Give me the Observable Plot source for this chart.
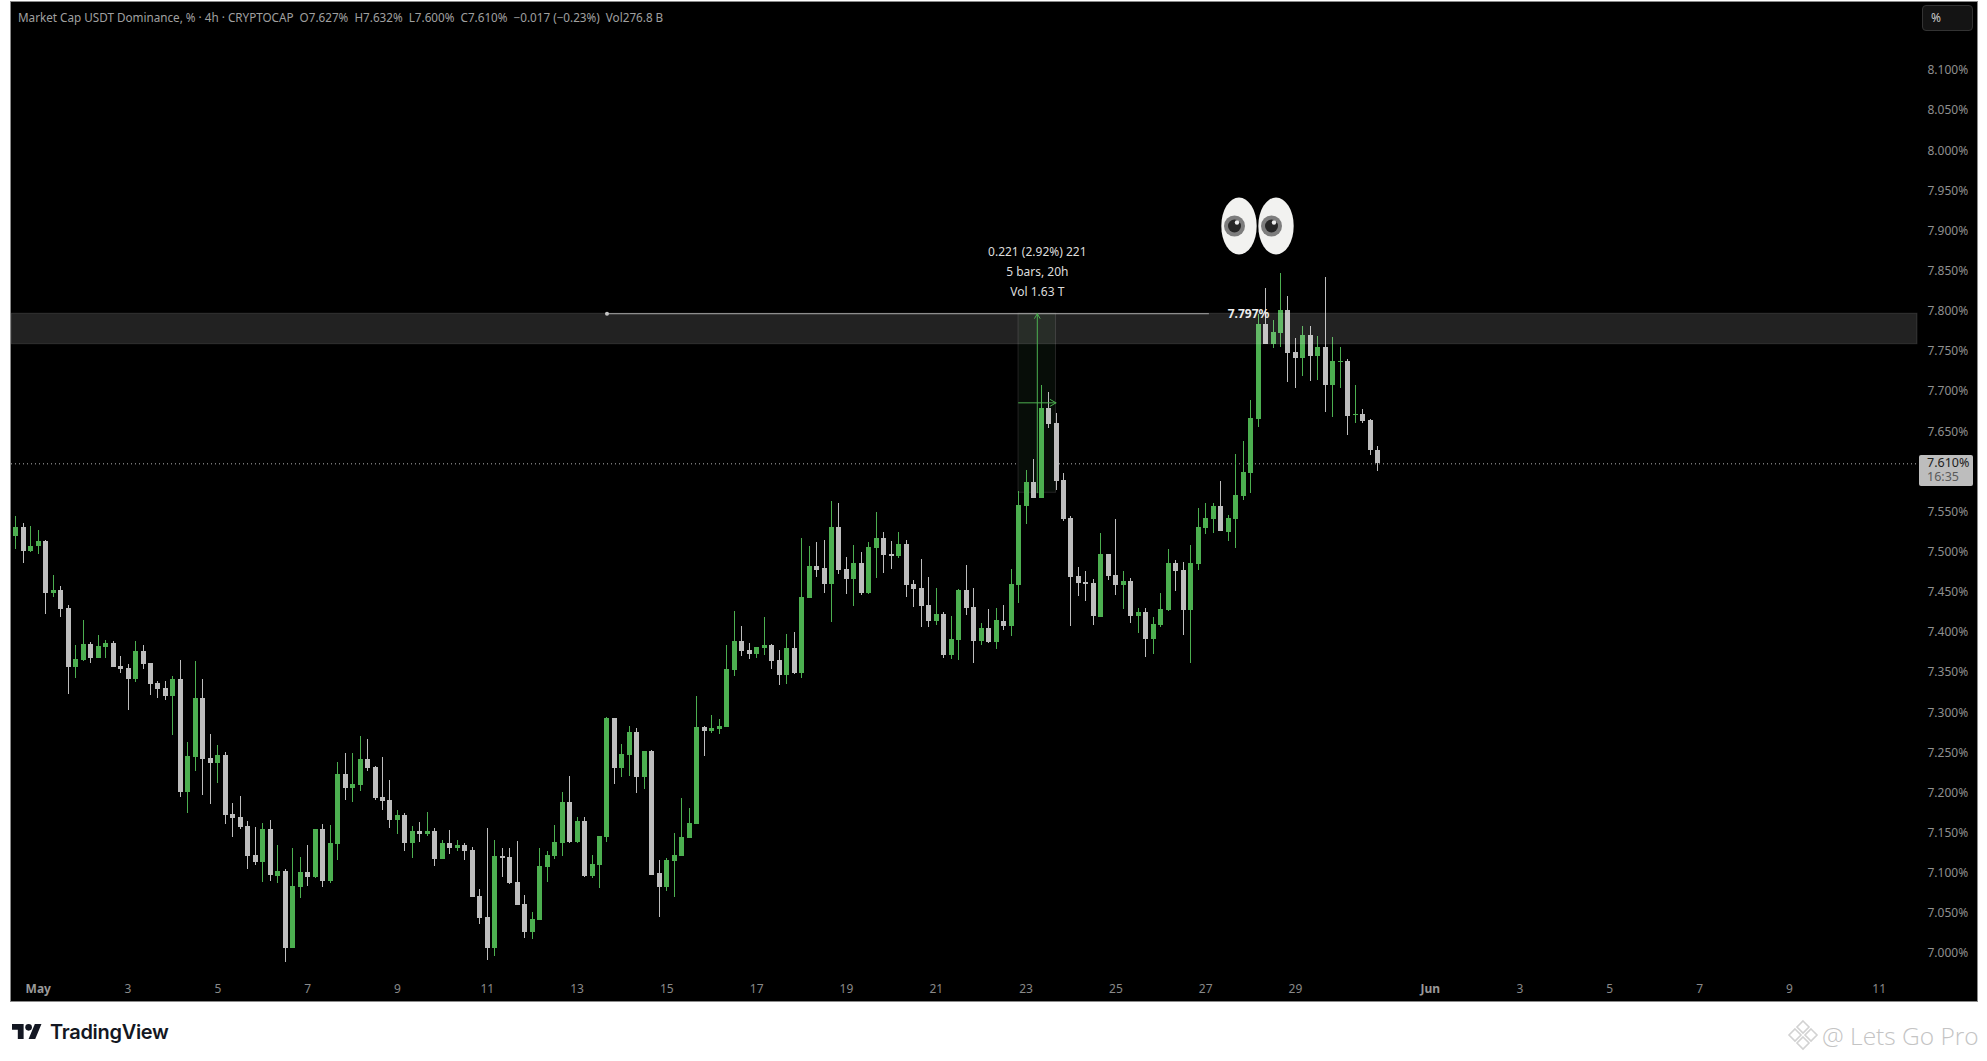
<!DOCTYPE html>
<html>
<head>
<meta charset="utf-8">
<script src="https://cdn.jsdelivr.net/npm/d3@7"></script>
<script src="https://cdn.jsdelivr.net/npm/@observablehq/plot@0.6"></script>
<style>
html,body{margin:0;padding:0;background:#fff;}
#wrap{position:relative;width:1987px;height:1061px;overflow:hidden;background:#fff;font-family:"Noto Sans",sans-serif;}
#chart{position:absolute;left:11px;top:2px;width:1966px;height:999px;outline:1px solid #8a8a8a;}
#chart svg{display:block;}
.abs{position:absolute;white-space:pre;}
#head{left:18px;top:9px;font-size:11.7px;line-height:16px;color:#a0a0a0;}
#pct{left:1922px;top:5px;width:51px;height:26px;box-sizing:border-box;background:#141414;border:1px solid #333;border-radius:4px;color:#c8c8c8;font-size:12px;line-height:24px;padding-left:8px;}
#price{left:1919px;top:455px;width:54px;height:31px;background:#bdbdbd;border-radius:2px;color:#1c1c1c;font-size:12.5px;line-height:14px;padding:1px 0 0 8px;box-sizing:border-box;}
#price span{color:#5a5a5a;display:block;}
#tv{left:50px;top:1016px;font-family:Inter,"Noto Sans",sans-serif;font-weight:600;font-size:20px;line-height:32px;color:#131722;letter-spacing:-.3px;}
#wm{left:1822px;top:1018px;font-family:"Open Sans",sans-serif;font-weight:300;font-size:24.5px;line-height:36px;color:#c4c4c4;}
</style>
</head>
<body>
<div id="wrap">
  <div id="chart"></div>
  <div class="abs" id="head">Market Cap USDT Dominance, % · 4h · CRYPTOCAP  O7.627%  H7.632%  L7.600%  C7.610%  −0.017 (−0.23%)  Vol276.8 B</div>
  <div class="abs" id="pct">%</div>
  <div class="abs" id="price">7.610%<span>16:35</span></div>
  <svg class="abs" style="left:0;top:0;pointer-events:none" width="1987" height="1061">
    <g>
      <ellipse cx="1239" cy="226" rx="17.7" ry="28.5" fill="#f2f2f0"/>
      <ellipse cx="1276" cy="226" rx="17.7" ry="28.5" fill="#f2f2f0"/>
      <circle cx="1234.5" cy="226" r="10.5" fill="#7d7d7d"/>
      <circle cx="1271.5" cy="226" r="10.5" fill="#7d7d7d"/>
      <circle cx="1234.5" cy="226" r="6.5" fill="#262626"/>
      <circle cx="1271.5" cy="226" r="6.5" fill="#262626"/>
      <circle cx="1237" cy="222.5" r="2.2" fill="#eee"/>
      <circle cx="1274" cy="222.5" r="2.2" fill="#eee"/>
    </g>
    <g transform="translate(12,1024) scale(.83)" fill="#131722">
      <path d="M14 18H7V7H0V0h14z"/><circle cx="20" cy="4" r="4"/><path d="M28 18h-8l7.5-18h8z"/>
    </g>
    <g transform="translate(1803,1035)" fill="none" stroke="#d2d2d2" stroke-width="1.6">
      <path d="M0-14L6-8 0-2-6-8z"/><path d="M-8-6l6 6-6 6-6-6z"/><path d="M8-6l6 6-6 6-6-6z"/><path d="M0 2l6 6-6 6-6-6z"/>
    </g>
  </svg>
  <div class="abs" id="tv">TradingView</div>
  <div class="abs" id="wm">@ Lets Go Pro</div>
</div>
<script>
const startDate = "2025-04-30T12:00:00Z";
const barHours = 4;

const open = [
7.519,7.531,7.501,7.507,7.513,7.448,7.452,7.430,7.356,7.365,
7.385,7.367,7.381,7.386,7.358,7.355,7.341,7.376,7.361,7.336,
7.330,7.320,7.341,7.201,7.244,7.318,7.243,7.237,7.247,7.173,
7.169,7.158,7.122,7.113,7.154,7.096,7.102,7.006,7.082,7.101,
7.095,7.154,7.090,7.136,7.223,7.206,7.209,7.242,7.232,7.194,
7.191,7.166,7.172,7.137,7.152,7.148,7.152,7.117,7.137,7.131,
7.135,7.128,7.071,7.045,7.006,7.121,7.120,7.088,7.061,7.026,
7.041,7.107,7.121,7.137,7.188,7.138,7.164,7.096,7.110,7.144,
7.293,7.230,7.247,7.275,7.219,7.252,7.100,7.082,7.114,7.121,
7.143,7.161,7.282,7.277,7.279,7.282,7.353,7.389,7.377,7.372,
7.380,7.384,7.365,7.346,7.380,7.349,7.442,7.482,7.480,7.460,
7.531,7.478,7.466,7.486,7.448,7.505,7.517,7.497,7.495,7.510,
7.460,7.455,7.433,7.414,7.422,7.371,7.390,7.452,7.431,7.389,
7.405,7.387,7.414,7.407,7.458,7.557,7.587,7.567,7.679,7.660,
7.589,7.542,7.470,7.462,7.461,7.419,7.497,7.471,7.458,7.463,
7.420,7.425,7.391,7.409,7.427,7.486,7.477,7.427,7.485,7.529,
7.541,7.557,7.525,7.541,7.569,7.598,7.665,7.784,7.759,7.772,
7.801,7.749,7.741,7.770,7.744,7.755,7.708,7.736,7.738,7.670,7.671,7.664,7.627];

const close = [
7.531,7.501,7.507,7.513,7.448,7.452,7.429,7.356,7.366,7.385,
7.367,7.382,7.386,7.356,7.354,7.341,7.376,7.360,7.335,7.329,
7.320,7.341,7.201,7.245,7.318,7.242,7.237,7.247,7.172,7.168,
7.157,7.121,7.113,7.154,7.097,7.102,7.006,7.083,7.101,7.095,
7.154,7.090,7.137,7.223,7.206,7.211,7.242,7.230,7.193,7.189,
7.166,7.172,7.137,7.152,7.148,7.152,7.117,7.137,7.131,7.135,
7.127,7.070,7.044,7.006,7.121,7.118,7.087,7.060,7.026,7.042,
7.108,7.122,7.138,7.188,7.138,7.164,7.096,7.111,7.146,7.293,
7.230,7.248,7.275,7.219,7.252,7.097,7.082,7.116,7.122,7.144,
7.162,7.282,7.277,7.280,7.283,7.354,7.389,7.376,7.372,7.381,
7.384,7.364,7.346,7.380,7.349,7.443,7.482,7.477,7.460,7.531,
7.477,7.466,7.486,7.448,7.506,7.517,7.496,7.495,7.510,7.458,
7.453,7.432,7.414,7.422,7.371,7.391,7.452,7.430,7.389,7.405,
7.387,7.415,7.407,7.460,7.558,7.587,7.567,7.679,7.659,7.588,
7.541,7.468,7.461,7.460,7.420,7.497,7.470,7.458,7.463,7.420,
7.425,7.391,7.410,7.429,7.486,7.476,7.427,7.486,7.531,7.542,
7.557,7.526,7.542,7.571,7.599,7.667,7.784,7.759,7.774,7.801,
7.747,7.741,7.770,7.744,7.755,7.708,7.738,7.738,7.669,7.671,7.663,7.627,7.610];

const high = [
7.544,7.536,7.532,7.527,7.515,7.471,7.457,7.434,7.384,7.415,
7.387,7.396,7.390,7.389,7.370,7.360,7.389,7.384,7.361,7.339,
7.339,7.345,7.365,7.263,7.364,7.341,7.273,7.259,7.250,7.187,
7.196,7.164,7.157,7.162,7.166,7.135,7.105,7.131,7.120,7.135,
7.154,7.161,7.159,7.238,7.249,7.249,7.270,7.267,7.233,7.244,
7.216,7.178,7.174,7.158,7.163,7.176,7.156,7.141,7.153,7.141,
7.137,7.132,7.080,7.156,7.141,7.131,7.131,7.139,7.072,7.051,
7.131,7.127,7.159,7.200,7.220,7.169,7.169,7.122,7.146,7.294,
7.293,7.260,7.283,7.280,7.252,7.253,7.116,7.118,7.149,7.193,
7.181,7.320,7.283,7.296,7.291,7.384,7.426,7.407,7.386,7.381,
7.419,7.385,7.377,7.397,7.400,7.517,7.507,7.512,7.514,7.563,
7.561,7.493,7.508,7.500,7.512,7.549,7.524,7.513,7.524,7.514,
7.465,7.491,7.468,7.455,7.425,7.420,7.453,7.483,7.455,7.411,
7.429,7.430,7.434,7.478,7.576,7.602,7.615,7.708,7.699,7.673,
7.598,7.544,7.481,7.476,7.466,7.523,7.497,7.541,7.476,7.467,
7.430,7.430,7.419,7.449,7.503,7.490,7.487,7.508,7.554,7.561,
7.561,7.588,7.546,7.622,7.638,7.689,7.796,7.828,7.789,7.847,
7.819,7.766,7.781,7.781,7.769,7.842,7.767,7.755,7.740,7.708,7.678,7.665,7.632];

const low = [
7.503,7.486,7.500,7.497,7.422,7.443,7.419,7.323,7.343,7.364,
7.361,7.367,7.367,7.356,7.349,7.303,7.338,7.354,7.321,7.318,
7.315,7.272,7.194,7.174,7.227,7.197,7.186,7.212,7.161,7.145,
7.154,7.105,7.110,7.088,7.090,7.087,6.989,7.006,7.068,7.083,
7.093,7.082,7.087,7.116,7.191,7.188,7.202,7.227,7.191,7.178,
7.156,7.148,7.127,7.118,7.138,7.146,7.108,7.117,7.123,7.127,
7.116,7.070,7.036,6.991,6.996,7.095,7.086,7.060,7.019,7.017,
7.041,7.088,7.117,7.121,7.137,7.137,7.095,7.093,7.081,7.138,
7.211,7.219,7.220,7.199,7.204,7.097,7.045,7.077,7.070,7.121,
7.143,7.161,7.245,7.274,7.273,7.282,7.345,7.370,7.366,7.367,
7.371,7.354,7.334,7.335,7.348,7.343,7.442,7.468,7.448,7.412,
7.472,7.447,7.432,7.446,7.447,7.467,7.473,7.478,7.492,7.443,
7.431,7.406,7.406,7.409,7.367,7.366,7.365,7.421,7.361,7.384,
7.386,7.379,7.402,7.395,7.436,7.534,7.567,7.567,7.654,7.577,
7.538,7.407,7.445,7.439,7.409,7.419,7.465,7.446,7.429,7.411,
7.399,7.369,7.373,7.406,7.426,7.451,7.396,7.361,7.477,7.522,
7.523,7.526,7.513,7.505,7.564,7.573,7.655,7.759,7.754,7.755,
7.711,7.704,7.719,7.713,7.714,7.674,7.668,7.704,7.645,7.660,7.660,7.620,7.600];

const priceTicks = [7.00,7.05,7.10,7.15,7.20,7.25,7.30,7.35,7.40,7.45,7.50,7.55,7.65,7.70,7.75,7.80,7.85,7.90,7.95,8.00,8.05,8.10];
const dayTicks = ["2025-05-03","2025-05-05","2025-05-07","2025-05-09","2025-05-11","2025-05-13","2025-05-15","2025-05-17","2025-05-19","2025-05-21","2025-05-23","2025-05-25","2025-05-27","2025-05-29","2025-06-03","2025-06-05","2025-06-07","2025-06-09","2025-06-11"];
const monthTicks = ["2025-05-01","2025-06-01"];
const monthNames = ["May","Jun"];
const zoneLow = 7.759, zoneHigh = 7.797;
const lastPrice = 7.610;
const measureFromBar = 134, measureToBar = 139;
const measureLow = 7.574, measureHigh = 7.797, measureArrowY = 7.686;
const levelFromBar = 79, levelToBar = 159.5;
const levelLabel = "7.797%";
const measureLines = ["0.221 (2.92%) 221","5 bars, 20h","Vol 1.63 T"];

const GREEN = "#4caf50", GRAY = "#bdbdbd";
const t0 = new Date(startDate).getTime();
const bars = open.map((o,i)=>({date:new Date(t0+i*barHours*3600e3),open:o,close:close[i],high:high[i],low:low[i]}));
const up = bars.filter(d=>d.close>=d.open), down = bars.filter(d=>d.close<d.open);
const bx = i => new Date(t0+i*barHours*3600e3);
const crisp = {shapeRendering:"crispEdges"};

const plot = Plot.plot({
  width:1966, height:999,
  marginLeft:0, marginRight:60, marginTop:0, marginBottom:20,
  style:{background:"#000",fontFamily:'"Noto Sans",sans-serif',fontSize:"12px",overflow:"visible"},
  x:{type:"utc",domain:[bars[0].date,bars[bars.length-1].date],range:[4.3,1366.3],axis:null},
  y:{domain:[7.0,8.1],range:[951,68],axis:null},
  marks:[
    Plot.ruleY([lastPrice],{stroke:"#b4b4b4",strokeWidth:1,strokeDasharray:"1 3"}),
    Plot.rect([{x1:bx(measureFromBar),x2:bx(measureToBar),y1:measureLow,y2:measureHigh}],{x1:"x1",x2:"x2",y1:"y1",y2:"y2",fill:"#070d08",stroke:"#242424",strokeWidth:1}),
    Plot.ruleX(down,{x:"date",y1:"low",y2:"high",stroke:GRAY,strokeWidth:1,...crisp}),
    Plot.ruleX(up,{x:"date",y1:"low",y2:"high",stroke:GREEN,strokeWidth:1,...crisp}),
    Plot.ruleX(down,{x:"date",y1:"open",y2:"close",stroke:GRAY,strokeWidth:5,...crisp}),
    Plot.ruleX(up,{x:"date",y1:"open",y2:"close",stroke:GREEN,strokeWidth:5,...crisp}),
    Plot.rect([{y1:zoneLow,y2:zoneHigh}],{y1:"y1",y2:"y2",fill:"#fff",fillOpacity:0.135,stroke:"#fff",strokeOpacity:0.12,strokeWidth:1}),
    Plot.ruleY([zoneHigh],{x1:bx(levelFromBar),x2:bx(levelToBar),stroke:"#a8a8a8",strokeWidth:1}),
    Plot.dot([{x:bx(levelFromBar),y:zoneHigh}],{x:"x",y:"y",r:2,fill:"#c4c4c4"}),
    Plot.arrow([{x:bx((measureFromBar+measureToBar)/2),y1:measureLow,y2:measureHigh}],{x:"x",y1:"y1",y2:"y2",stroke:GREEN,strokeWidth:1,headLength:8,bend:false}),
    Plot.arrow([{x1:bx(measureFromBar),x2:bx(measureToBar),y:measureArrowY}],{x1:"x1",x2:"x2",y:"y",stroke:GREEN,strokeWidth:1,headLength:10,bend:false}),
    Plot.text(measureLines,{x:bx((measureFromBar+measureToBar)/2),y:measureHigh,text:d=>d,dy:(-62),fill:"#dcdcdc",fontSize:12,filter:(d,i)=>i===0}),
    Plot.text(measureLines,{x:bx((measureFromBar+measureToBar)/2),y:measureHigh,text:d=>d,dy:(-42),fill:"#dcdcdc",fontSize:12,filter:(d,i)=>i===1}),
    Plot.text(measureLines,{x:bx((measureFromBar+measureToBar)/2),y:measureHigh,text:d=>d,dy:(-22),fill:"#dcdcdc",fontSize:12,filter:(d,i)=>i===2}),
    Plot.text([levelLabel],{x:bx(165),y:zoneHigh,text:d=>d,fill:"#ededed",fontSize:12,fontWeight:700,textAnchor:"middle",dx:-2}),
    Plot.axisY({ticks:priceTicks,anchor:"right",tickSize:0,tickPadding:10,color:"#8f8f8f",fontSize:12,tickFormat:d=>d.toFixed(3)+"%",label:null}),
    Plot.axisX({ticks:dayTicks.map(d=>new Date(d)),anchor:"bottom",tickSize:0,tickPadding:3,color:"#8a8a8a",fontSize:12,tickFormat:d=>String(d.getUTCDate()),label:null}),
    Plot.axisX({ticks:monthTicks.map(d=>new Date(d)),anchor:"bottom",tickSize:0,tickPadding:3,color:"#9a9a9a",fontSize:12,fontWeight:700,tickFormat:d=>monthNames[monthTicks.indexOf(d.toISOString().slice(0,10))],label:null})
  ]
});
document.getElementById("chart").append(plot);
</script>
</body>
</html>
